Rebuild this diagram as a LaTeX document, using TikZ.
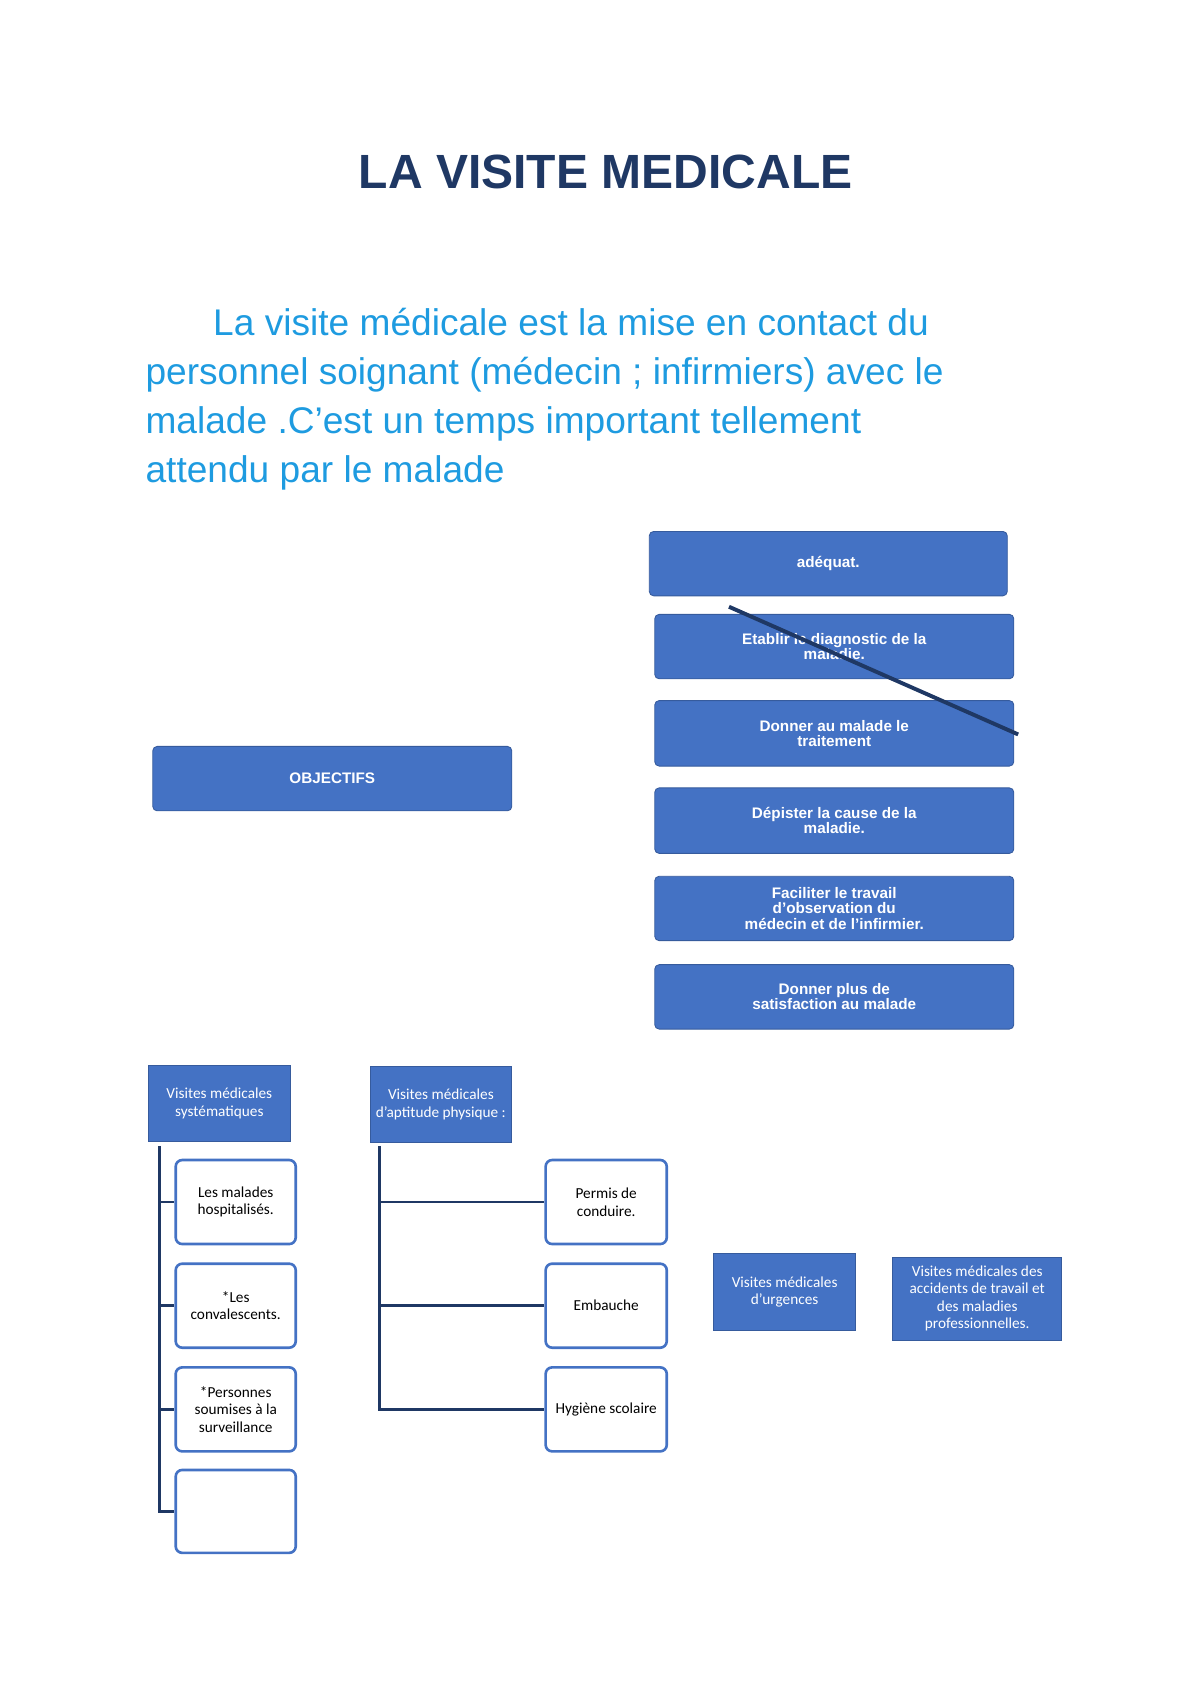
\documentclass[tikz,border=0pt]{standalone}
\usepackage{fontspec}
\setmainfont{Liberation Sans}
\newfontfamily\carl{Carlito}
\definecolor{bx}{HTML}{4472C4}
\definecolor{ttl}{HTML}{1F3864}
\definecolor{para}{HTML}{1E9BE0}
\begin{document}
\begin{tikzpicture}[x=0.5pt,y=-0.5pt,
 bluebox/.style={fill=bx,draw=bx!80!black,rounded corners=2pt,text=white,font=\fontsize{7}{7}\selectfont\bfseries,align=center,inner sep=1pt},
 sbox/.style={fill=bx,draw=bx!80!black,text=white,font=\carl\fontsize{7}{8}\selectfont,align=center,inner sep=1pt},
 wbox/.style={fill=white,draw=bx,line width=1.2pt,rounded corners=3pt,font=\carl\fontsize{7}{8}\selectfont,align=center,inner sep=1pt},
 conn/.style={draw=ttl,line width=1.3pt}]
\useasboundingbox (0,0) rectangle (1100,1556);
\node[font=\fontsize{22}{26}\selectfont\bfseries,text=ttl] (title) at (555,158) {LA VISITE MEDICALE};
\begin{scope}[every node/.style={anchor=base west,text=para,font=\fontsize{17}{20}\selectfont,inner sep=0}]
\node (p1) at (195,307) {La visite médicale est la mise en contact du};
\node (p2) at (133,352) {personnel soignant (médecin ; infirmiers) avec le};
\node (p3) at (133,397) {malade .C’est un temps important tellement};
\node (p4) at (133,442) {attendu par le malade};
\end{scope}
\newcommand\bb[6]{\node[#6,minimum width={(#3-#2)*0.5pt},minimum height={(#5-#4)*0.5pt}] (#1) at ({(#2+#3)/2},{(#4+#5)/2})}
\bb{b1}{595}{923}{487}{546}{bluebox} {adéquat.};
\bb{b2}{600}{929}{563}{622}{bluebox} {Etablir le diagnostic de la\\maladie.};
\bb{b3}{600}{929}{642}{702}{bluebox} {Donner au malade le\\traitement};
\bb{b4}{600}{929}{722}{782}{bluebox} {Dépister la cause de la\\maladie.};
\bb{b5}{600}{929}{803}{862}{bluebox} {Faciliter le travail\\d’observation du\\médecin et de l’infirmier.};
\bb{b6}{600}{929}{884}{943}{bluebox} {Donner plus de\\satisfaction au malade};
\bb{obj}{140}{469}{684}{743}{bluebox} {OBJECTIFS};
\coordinate (d1) at (668,556); \coordinate (d2) at (933,673);
\draw[ttl,line width=1.8pt] (d1) -- (d2);
\bb{s1}{136}{266}{976}{1046}{sbox} {Visites médicales\\systématiques};
\bb{s2}{339}{469}{977}{1047}{sbox} {Visites médicales\\d’aptitude physique :};
\bb{s3}{654}{784}{1149}{1219}{sbox} {Visites médicales\\d’urgences};
\bb{s4}{818}{973}{1152}{1228}{sbox} {Visites médicales des\\accidents de travail et\\des maladies\\professionnelles.};
\bb{l1}{161}{271}{1063}{1140}{wbox} {Les malades\\hospitalisés.};
\bb{l2}{161}{271}{1158}{1235}{wbox} {*Les\\convalescents.};
\bb{l3}{161}{271}{1253}{1330}{wbox} {*Personnes\\soumises à la\\surveillance};
\bb{l4}{161}{271}{1347}{1423}{wbox} {};
\bb{m1}{500}{611}{1063}{1140}{wbox} {Permis de\\conduire.};
\bb{m2}{500}{611}{1158}{1235}{wbox} {Embauche};
\bb{m3}{500}{611}{1253}{1330}{wbox} {Hygiène scolaire};
\draw[conn] (146,1050) |- (l4.west);
\foreach \n in {l1,l2,l3} \draw[conn] (146,0 |- \n.west) -- (\n.west);
\draw[conn] (348,1050) |- (m3.west);
\foreach \n in {m1,m2} \draw[conn] (348,0 |- \n.west) -- (\n.west);
\end{tikzpicture}
\end{document}
